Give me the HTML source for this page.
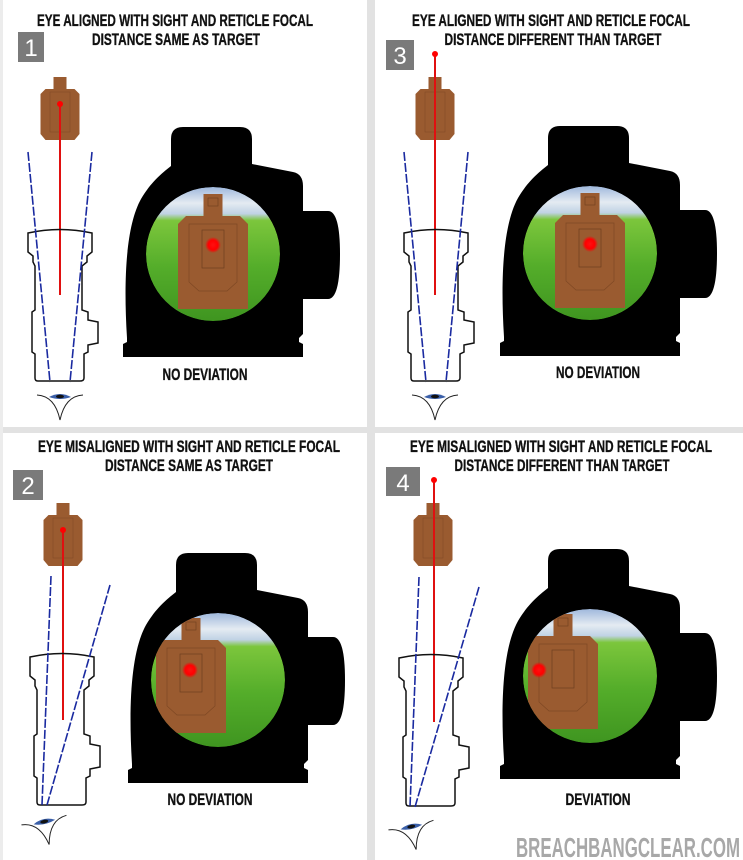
<!DOCTYPE html>
<html><head><meta charset="utf-8"><style>
html,body{margin:0;padding:0;background:#fff}
svg{display:block}
.t{font-family:"Liberation Sans Narrow","Liberation Sans",sans-serif;font-weight:bold;font-size:17px;fill:#111;stroke:#111;stroke-width:0.35}
.n{font-family:"Liberation Sans",sans-serif;font-size:24px;fill:#fff}
</style></head><body>
<svg width="743" height="860" viewBox="0 0 743 860" xmlns="http://www.w3.org/2000/svg">
<defs>
<linearGradient id="lg" x1="0" y1="0" x2="0" y2="1">
<stop offset="0" stop-color="#9fb8dc"/><stop offset="0.12" stop-color="#e4ebf2"/><stop offset="0.2" stop-color="#c0d2e4"/>
<stop offset="0.25" stop-color="#7cc63c"/><stop offset="0.6" stop-color="#54ad2a"/><stop offset="1" stop-color="#3f9520"/>
</linearGradient>
<radialGradient id="rd"><stop offset="0" stop-color="#ff1010"/><stop offset="0.6" stop-color="#f00"/><stop offset="1" stop-color="#f00" stop-opacity="0"/></radialGradient>
<clipPath id="lens" clipPathUnits="userSpaceOnUse"><circle cx="0" cy="0" r="67"/></clipPath>
<g id="sight">
<path fill="#000" d="M-42,-115 Q-42,-127 -30,-127 L27,-127 Q39,-127 39,-115 L39,-90 L80,-82 Q90,-80 90,-68 L90,-43 L115,-43 Q127,-43 127,0 Q127,45 115,45 L90,45 L90,80 L86,84 L86,88 L90,90 L90,103 L-90,103 L-90,90 L-86,88 L-86,84 C-90,20 -86,-30 -72,-55 C-62,-72 -52,-80 -42,-88 Z"/>
</g>
<g id="tsm">
<rect x="-6.5" y="0" width="13" height="12" fill="#9a5b30"/>
<polygon points="-14.5,12 14.5,12 19.5,17 19.5,57 14.5,63 -14.5,63 -19.5,57 -19.5,17" fill="#9a5b30"/>
<rect x="-10" y="15" width="20" height="40" fill="none" stroke="#7e4824" stroke-width="0.5"/>
</g>
<g id="tbig">
<rect x="-9.5" y="0" width="19" height="22" fill="#9a5b30"/>
<rect x="-5" y="4" width="10" height="8" fill="none" stroke="#6e3f1f" stroke-width="0.6"/>
<polygon points="-27,22 27,22 35,30 35,115 -35,115 -35,30" fill="#9a5b30"/>
<polygon points="-24,30 24,30 24,88 14,97 -14,97 -24,88" fill="none" stroke="#7e4824" stroke-width="0.7"/>
<rect x="-11" y="36" width="22" height="38" fill="none" stroke="#6e3f1f" stroke-width="0.7"/>
</g>
<g id="scope">
<path d="M28,233 Q60,226 92,233 L92,252 L87,256 L87,262 L82,266 L82,310 L88,312 L88,320 L98,322 L98,343 L88,345 L88,352 L84,354 L84,378 Q84,381 80,381 L38,381 Q35,381 35,378 L35,354 L32,352 L32,312 L35,310 L35,266 L33,262 L33,256 L28,252 Z" fill="none" stroke="#111" stroke-width="1.5"/>
</g>
<g id="eye">
<path d="M-23,-5 Q-5,-4 0,20 Q5,-4 23,-5" fill="none" stroke="#222" stroke-width="1"/>
<path d="M-11,-3 Q0,-9 11,-3 Q0,1 -11,-3Z" fill="#3a5fa8"/>
<ellipse cx="0" cy="-3.5" rx="4" ry="1.8" fill="#111"/>
</g>
</defs>
<rect x="367" y="0" width="8" height="860" fill="#e2e2e2"/>
<rect x="0" y="427" width="743" height="6" fill="#e2e2e2"/>
<rect x="0" y="0" width="3" height="860" fill="#ececec"/>

<!-- Panel 1 -->
<text class="t" x="175" y="26" text-anchor="middle" textLength="276" lengthAdjust="spacingAndGlyphs">EYE ALIGNED WITH SIGHT AND RETICLE FOCAL</text>
<text class="t" x="176" y="45" text-anchor="middle" textLength="168" lengthAdjust="spacingAndGlyphs">DISTANCE SAME AS TARGET</text>
<rect x="18" y="32" width="26" height="30" fill="#7a7a7a"/><text class="n" x="31" y="56" text-anchor="middle">1</text>
<use href="#tsm" x="60" y="77"/>
<line x1="60" y1="104" x2="60" y2="295" stroke="#e01010" stroke-width="2"/>
<circle cx="60" cy="104" r="3" fill="#f00"/>
<use href="#scope"/>
<line x1="28" y1="152" x2="50" y2="382" stroke="#1a2aa0" stroke-width="1.6" stroke-dasharray="9,2"/>
<line x1="92" y1="152" x2="70" y2="382" stroke="#1a2aa0" stroke-width="1.6" stroke-dasharray="9,2"/>
<use href="#eye" x="60" y="400"/>
<g transform="translate(213,254)"><use href="#sight"/><g clip-path="url(#lens)"><circle r="67" fill="url(#lg)"/><use href="#tbig" x="0" y="-60"/><circle cx="0" cy="-9" r="8" fill="url(#rd)"/></g></g>
<text class="t" x="205" y="380" text-anchor="middle" textLength="85" lengthAdjust="spacingAndGlyphs">NO DEVIATION</text>

<!-- Panel 3 -->
<text class="t" x="551" y="26" text-anchor="middle" textLength="278" lengthAdjust="spacingAndGlyphs">EYE ALIGNED WITH SIGHT AND RETICLE FOCAL</text>
<text class="t" x="553" y="45" text-anchor="middle" textLength="217" lengthAdjust="spacingAndGlyphs">DISTANCE DIFFERENT THAN TARGET</text>
<rect x="386" y="40" width="28" height="30" fill="#7a7a7a"/><text class="n" x="400" y="64" text-anchor="middle">3</text>
<use href="#tsm" x="435" y="77"/>
<line x1="435" y1="54" x2="435" y2="295" stroke="#e01010" stroke-width="2"/>
<circle cx="435" cy="54" r="3" fill="#f00"/>
<use href="#scope" x="376"/>
<line x1="404" y1="152" x2="426" y2="382" stroke="#1a2aa0" stroke-width="1.6" stroke-dasharray="9,2"/>
<line x1="468" y1="152" x2="446" y2="382" stroke="#1a2aa0" stroke-width="1.6" stroke-dasharray="9,2"/>
<use href="#eye" x="435" y="400"/>
<g transform="translate(590,253)"><use href="#sight"/><g clip-path="url(#lens)"><circle r="67" fill="url(#lg)"/><use href="#tbig" x="0" y="-60"/><circle cx="0" cy="-9" r="8" fill="url(#rd)"/></g></g>
<text class="t" x="598" y="378" text-anchor="middle" textLength="84" lengthAdjust="spacingAndGlyphs">NO DEVIATION</text>

<!-- Panel 2 -->
<text class="t" x="189" y="452" text-anchor="middle" textLength="302" lengthAdjust="spacingAndGlyphs">EYE MISALIGNED WITH SIGHT AND RETICLE FOCAL</text>
<text class="t" x="189" y="471" text-anchor="middle" textLength="168" lengthAdjust="spacingAndGlyphs">DISTANCE SAME AS TARGET</text>
<rect x="13" y="470" width="30" height="30" fill="#7a7a7a"/><text class="n" x="28" y="494" text-anchor="middle">2</text>
<use href="#tsm" x="63" y="503"/>
<line x1="63" y1="530" x2="63" y2="720" stroke="#e01010" stroke-width="2"/>
<circle cx="63" cy="530" r="3" fill="#f00"/>
<use href="#scope" x="2" y="424"/>
<line x1="51" y1="576" x2="42" y2="805" stroke="#1a2aa0" stroke-width="1.6" stroke-dasharray="9,2"/>
<line x1="110" y1="585" x2="47" y2="805" stroke="#1a2aa0" stroke-width="1.6" stroke-dasharray="9,2"/>
<use href="#eye" x="45" y="825" transform="rotate(-12 45 825)"/>
<g transform="translate(218,680)"><use href="#sight"/><g clip-path="url(#lens)"><circle r="67" fill="url(#lg)"/><use href="#tbig" x="-27" y="-62"/><circle cx="-28" cy="-10" r="8" fill="url(#rd)"/></g></g>
<text class="t" x="210" y="805" text-anchor="middle" textLength="85" lengthAdjust="spacingAndGlyphs">NO DEVIATION</text>

<!-- Panel 4 -->
<text class="t" x="561" y="452" text-anchor="middle" textLength="302" lengthAdjust="spacingAndGlyphs">EYE MISALIGNED WITH SIGHT AND RETICLE FOCAL</text>
<text class="t" x="562" y="471" text-anchor="middle" textLength="215" lengthAdjust="spacingAndGlyphs">DISTANCE DIFFERENT THAN TARGET</text>
<rect x="386" y="467" width="34" height="29" fill="#7a7a7a"/><text class="n" x="403" y="491" text-anchor="middle">4</text>
<use href="#tsm" x="433" y="503"/>
<line x1="434" y1="480" x2="434" y2="722" stroke="#e01010" stroke-width="2"/>
<circle cx="434" cy="480" r="3" fill="#f00"/>
<use href="#scope" x="371" y="425"/>
<line x1="419" y1="577" x2="410" y2="807" stroke="#1a2aa0" stroke-width="1.6" stroke-dasharray="9,2"/>
<line x1="479" y1="587" x2="415" y2="807" stroke="#1a2aa0" stroke-width="1.6" stroke-dasharray="9,2"/>
<use href="#eye" x="412" y="830" transform="rotate(-12 412 830)"/>
<g transform="translate(590,676)"><use href="#sight"/><g clip-path="url(#lens)"><circle r="67" fill="url(#lg)"/><use href="#tbig" x="-27" y="-62"/><circle cx="-51" cy="-6" r="8" fill="url(#rd)"/></g></g>
<text class="t" x="598" y="805" text-anchor="middle" textLength="65" lengthAdjust="spacingAndGlyphs">DEVIATION</text>

<text x="628" y="857" text-anchor="middle" textLength="224" lengthAdjust="spacingAndGlyphs" style="font-family:'Liberation Sans Narrow','Liberation Sans',sans-serif;font-weight:bold;font-size:28px;fill:#a8a8a8">BREACHBANGCLEAR.COM</text>
</svg>
</body></html>
